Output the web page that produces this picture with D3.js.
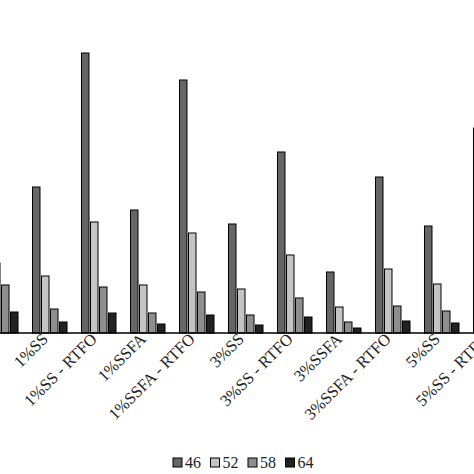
<!DOCTYPE html>
<html><head><meta charset="utf-8">
<script src="https://cdn.jsdelivr.net/npm/d3@7"></script>
<style>body{margin:0;background:#fff}text{font-family:"Liberation Serif",serif}</style>
</head><body><svg id="chart" width="474" height="474"></svg>
<script>
var categories = ["Control","1%SS","1%SS - RTFO","1%SSFA","1%SSFA - RTFO","3%SS","3%SS - RTFO","3%SSFA","3%SSFA - RTFO","5%SS","5%SS - RTFO","5%SSFA"];
var series = ["46","52","58","64"];
var v46 = [150,146,280,123,253,109,181,61,156,107,205,120];
var v52 = [70,57,111,48,100,44,78,26,64,49,85,50];
var v58 = [48,24,46,20,41,18,35,11,27,22,36,22];
var v64 = [21,11,20,9,18,8,16,5,12,10,16,10];
var colors = ["#666666","#c4c4c4","#8e8e8e","#222222"];

var values = [v46,v52,v58,v64];
var svg = d3.select("#chart");
var baseY = 333;

var x = d3.scaleBand().domain(categories).range([-23.5,564.5]).paddingInner(0.265).paddingOuter(0.1327);
var xs = d3.scaleBand().domain(series).range([0,x.bandwidth()]);
var y = d3.scaleLinear().domain([0,300]).range([baseY,33]);

var groups = svg.selectAll(".grp").data(categories).enter().append("g")
	.attr("class","grp")
	.attr("transform",function(d){ return "translate("+x(d)+",0)"; });

groups.selectAll("rect")
	.data(function(d,i){ return series.map(function(s,j){ return {s:s,v:values[j][i],j:j}; }); })
	.enter().append("rect")
	.attr("x",function(d){ return xs(d.s)+0.5; })
	.attr("width",xs.bandwidth()-1.5)
	.attr("y",function(d){ return y(d.v); })
	.attr("height",function(d){ return baseY-y(d.v); })
	.attr("fill",function(d){ return colors[d.j]; })
	.attr("stroke","#000").attr("stroke-width",1);

svg.append("line").attr("x1",0).attr("x2",474).attr("y1",baseY).attr("y2",baseY)
	.attr("stroke","#000").attr("stroke-width",1.5);

// rotated category labels
groups.append("text")
	.attr("transform",function(){ return "translate("+(x.bandwidth()/2-1)+",340) rotate(-45)"; })
	.attr("text-anchor","end")
	.attr("font-size",16.5)
	.attr("fill","#222")
	.text(function(d){ return d; });

// legend
var legend = svg.append("g").attr("transform","translate(173,458)");
var items = legend.selectAll("g").data(series).enter().append("g")
	.attr("transform",function(d,i){ return "translate("+(i*37.5)+",0)"; });
items.append("rect").attr("width",9).attr("height",9)
	.attr("fill",function(d,i){ return colors[i]; }).attr("stroke","#000");
items.append("text").attr("x",12).attr("y",10).attr("font-size",16).attr("fill","#222")
	.text(function(d){ return d; });
</script></body></html>
